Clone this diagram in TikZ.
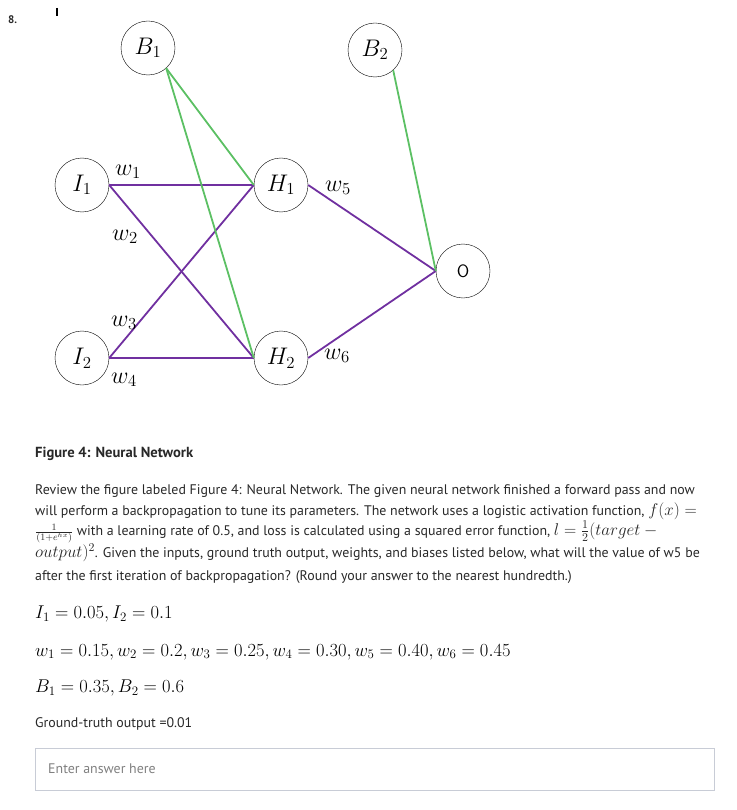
\RequirePackage{fix-cm}
\documentclass[tikz,border=0pt]{standalone}
\usepackage{fontspec}
\setmainfont{PT Sans}
\usetikzlibrary{positioning}
\definecolor{weightcolor}{RGB}{112,48,160}
\definecolor{biascolor}{RGB}{92,192,100}
\definecolor{boxcolor}{RGB}{200,204,214}
\definecolor{textcolor}{RGB}{40,40,40}

\begin{document}
\begin{tikzpicture}[x=1pt, y=-1pt,
    neuron/.style={circle, draw, thin, minimum size=54pt, inner sep=0pt, font=\fontsize{24}{26}\selectfont},
    weight/.style={draw=weightcolor, line width=1.8pt},
    bias/.style={draw=biascolor, line width=1.8pt},
    wlabel/.style={inner sep=0pt, font=\fontsize{24}{26}\selectfont},
    bodytext/.style={anchor=west, inner sep=0pt, text=textcolor, font=\fontsize{13.9}{15}\selectfont},
    mathline/.style={anchor=west, inner sep=0pt, font=\fontsize{18.5}{20}\selectfont}
]
\useasboundingbox (0,0) rectangle (736,810);

% question number and cursor mark
\node[bodytext, font=\fontsize{11}{13}\selectfont\bfseries] (qnum) at (8,20) {8.};
\draw[line width=1.6pt] (57,8) -- (57,16);

% neurons
\node[neuron] (B1) at (148,48) {$B_1$};
\node[neuron] (B2) at (375,50) {$B_2$};
\node[neuron] (I1) at (82,185) {$I_1$};
\node[neuron] (I2) at (82,358) {$I_2$};
\node[neuron] (H1) at (281,185) {$H_1$};
\node[neuron] (H2) at (281,358) {$H_2$};
\node[neuron, font=\fontsize{18}{20}\sffamily] (O) at (463,271) {O};

% weights
\draw[weight] (I1.east) -- (H1.west);
\draw[weight] (I1.east) -- (H2.west);
\draw[weight] (I2.east) -- (H1.west);
\draw[weight] (I2.east) -- (H2.west);
\draw[weight] (H1.east) -- (O.west);
\draw[weight] (H2.east) -- (O.west);

% biases
\draw[bias] (B1.-48) -- (H1.west);
\draw[bias] (B1.-48) -- (H2.west);
\draw[bias] (B2.-48) -- (O.west);

% weight labels
\node[wlabel] (w1) at (128,172) {$w_1$};
\node[wlabel] (w2) at (125,237) {$w_2$};
\node[wlabel] (w3) at (124,323) {$w_3$};
\node[wlabel] (w4) at (124,380) {$w_4$};
\node[wlabel] (w5) at (338,188) {$w_5$};
\node[wlabel] (w6) at (337,356) {$w_6$};

% caption and question text
\node[bodytext, font=\fontsize{14.6}{16}\selectfont\bfseries] (caption) at (35,454) {Figure 4: Neural Network};
\node[bodytext] (line1) at (35,491) {Review the figure labeled Figure 4: Neural Network. The given neural network finished a forward pass and now};
\node[bodytext] (line2) at (35,511) {will perform a backpropagation to tune its parameters. The network uses a logistic activation function, {\fontsize{17}{18}\selectfont$f(x) =$}};
\node[bodytext] (line3) at (35,532) {$\frac{1}{(1+e^{hx})}$ with a learning rate of 0.5, and loss is calculated using a squared error function, {\fontsize{17}{18}\selectfont$l = \frac{1}{2}(target -{}$}};
\node[bodytext] (line4) at (35,553) {{\fontsize{17}{18}\selectfont$output)^2$}. Given the inputs, ground truth output, weights, and biases listed below, what will the value of w5 be};
\node[bodytext] (line5) at (35,577) {after the first iteration of backpropagation? (Round your answer to the nearest hundredth.)};

% given values
\node[mathline] (inputs) at (35,614) {$I_1 = 0.05, I_2 = 0.1$};
\node[mathline] (weights) at (35,652) {$w_1 = 0.15, w_2 = 0.2, w_3 = 0.25, w_4 = 0.30, w_5 = 0.40, w_6 = 0.45$};
\node[mathline] (biases) at (35,688) {$B_1 = 0.35, B_2 = 0.6$};
\node[bodytext] (truth) at (35,724) {Ground-truth output =0.01};

% answer box
\draw[boxcolor] (35,748) rectangle (714,790);
\node[bodytext, text=gray] (answer) at (48,769) {Enter answer here};

\end{tikzpicture}
\end{document}
